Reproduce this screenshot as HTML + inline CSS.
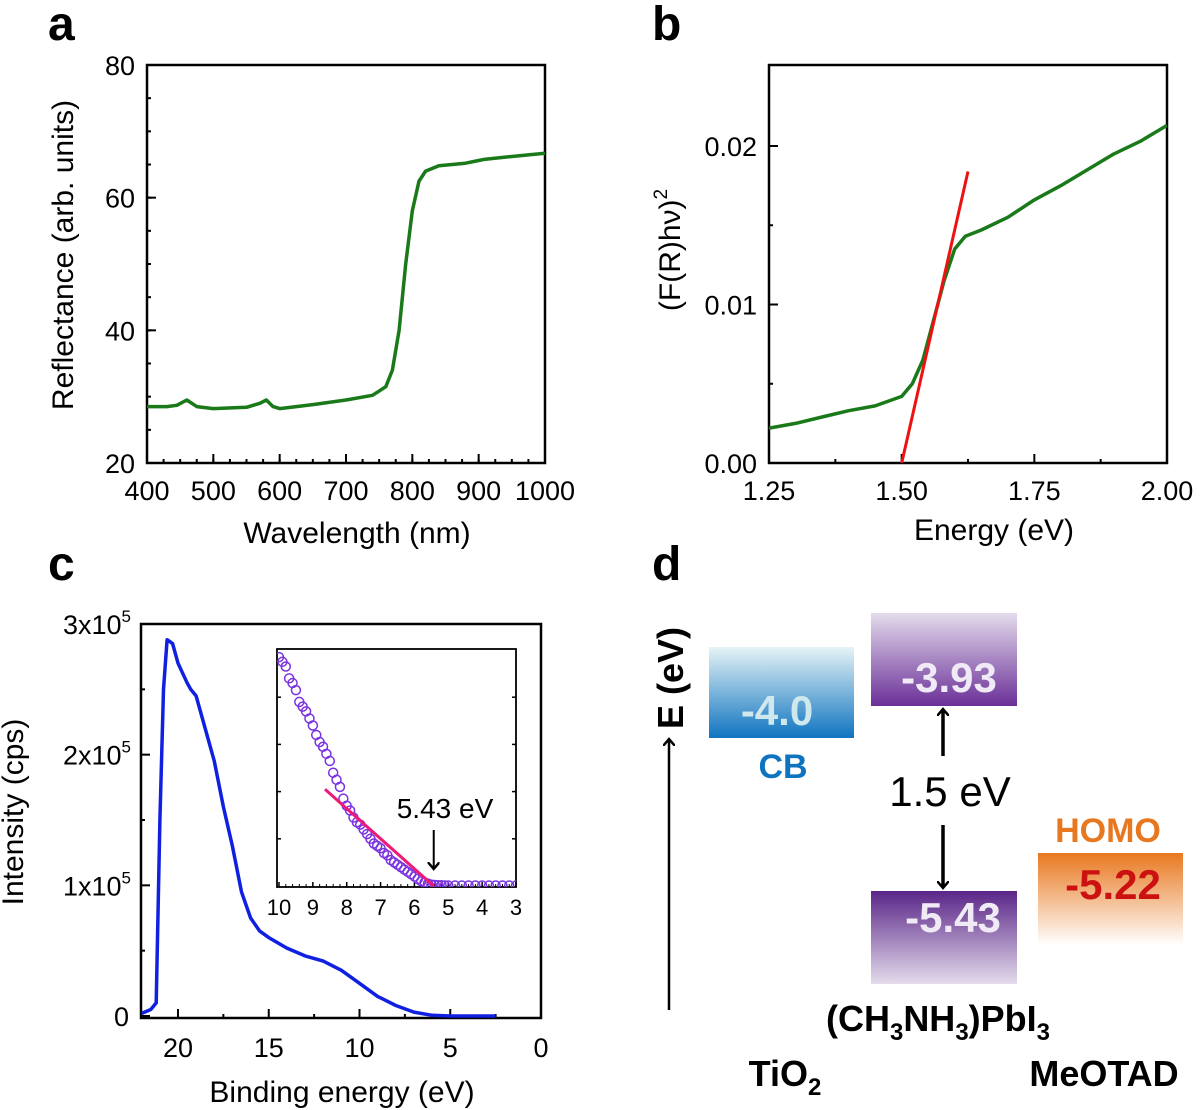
<!DOCTYPE html>
<html><head><meta charset="utf-8"><style>
body{margin:0;background:#fff}
svg{display:block;font-family:"Liberation Sans",Arial,sans-serif}
</style></head><body>
<svg id="fig" width="1200" height="1110" viewBox="0 0 1200 1110">
<defs>
<linearGradient id="gTi" x1="0" y1="0" x2="0" y2="1"><stop offset="0" stop-color="#e6f4f6"/><stop offset="1" stop-color="#0f74c0"/></linearGradient>
<linearGradient id="gPvT" x1="0" y1="0" x2="0" y2="1"><stop offset="0" stop-color="#e4dcec"/><stop offset="1" stop-color="#6a2f98"/></linearGradient>
<linearGradient id="gPvB" x1="0" y1="0" x2="0" y2="1"><stop offset="0" stop-color="#5a2588"/><stop offset="1" stop-color="#e4dcec"/></linearGradient>
<linearGradient id="gHo" x1="0" y1="0" x2="0" y2="1"><stop offset="0" stop-color="#e87820"/><stop offset="1" stop-color="#ffffff"/></linearGradient>
<marker id="ah" markerWidth="12" markerHeight="12" refX="6" refY="6" orient="auto" markerUnits="userSpaceOnUse"><path d="M0,0 L7,6 L0,12" fill="none" stroke="#000" stroke-width="2.5"/></marker>
</defs>
<g id="root"></g>
</svg>
<script>
// ---- Panel a data ----
const aWavelength=[400,430,445,460,475,500,550,570,580,590,600,650,700,740,760,770,780,790,800,810,820,840,880,900,910,950,1000];
const aReflect=[28.5,28.5,28.7,29.5,28.5,28.2,28.4,29,29.5,28.5,28.2,28.8,29.5,30.2,31.5,34,40,50,58,62.5,64,64.8,65.2,65.6,65.8,66.2,66.7];
const aXTicks=[400,500,600,700,800,900,1000];
const aYTicks=[20,40,60,80];
// ---- Panel b data ----
const bEnergy=[1.25,1.3,1.35,1.4,1.45,1.5,1.52,1.54,1.56,1.58,1.6,1.62,1.65,1.7,1.75,1.8,1.85,1.9,1.95,2.0];
const bValue=[0.0022,0.0025,0.0029,0.0033,0.0036,0.0042,0.005,0.0065,0.009,0.0115,0.0135,0.0143,0.0147,0.0155,0.0166,0.0175,0.0185,0.0195,0.0203,0.0213];
const bFitE=[1.50,1.625];
const bFitV=[0,0.0184];
const bXTicks=[1.25,1.5,1.75,2.0];
const bYTicks=[0,0.01,0.02];
const bYLabels=["0.00","0.01","0.02"];
// ---- Panel c data ----
const cEnergy=[22,21.5,21.2,21.0,20.8,20.6,20.3,20,19.5,19.3,19,18.5,18,17.5,17,16.5,16,15.5,15,14,13,12,11,10,9,8,7,6,5,2.5];
const cIntensity=[0.02,0.05,0.1,1.5,2.5,2.88,2.85,2.7,2.55,2.5,2.45,2.2,1.95,1.6,1.3,0.95,0.75,0.65,0.6,0.52,0.46,0.42,0.35,0.25,0.15,0.08,0.03,0.005,0,0];
const cXTicks=[20,15,10,5,0];
const cYTicks=[0,1,2,3];
const insetE=[10,9.9,9.8,9.7,9.6,9.5,9.4,9.3,9.2,9.1,9.0,8.9,8.8,8.7,8.6,8.5,8.4,8.3,8.2,8.1,8.0,7.9,7.8,7.7,7.6,7.5,7.4,7.3,7.2,7.1,7.0,6.9,6.8,6.7,6.6,6.5,6.4,6.3,6.2,6.1,6.0,5.9,5.8,5.7,5.6,5.5,5.4,5.3,5.2,5.1,5.0,4.8,4.6,4.4,4.2,4.0,3.8,3.6,3.4,3.2,3.0];
const insetV=[0.97,0.95,0.93,0.88,0.86,0.83,0.78,0.76,0.74,0.71,0.68,0.64,0.61,0.59,0.56,0.53,0.48,0.45,0.42,0.37,0.34,0.32,0.29,0.27,0.26,0.24,0.22,0.20,0.18,0.17,0.16,0.14,0.13,0.11,0.10,0.09,0.08,0.07,0.06,0.05,0.04,0.03,0.02,0.015,0.01,0.006,0.004,0.003,0.003,0.002,0.002,0.002,0.002,0.002,0.002,0.002,0.002,0.002,0.002,0.002,0.002];
const insetFitE=[8.64,5.43];
const insetFitV=[0.41,0];
const insetXTicks=[10,9,8,7,6,5,4,3];
// ---- Panel d data ----
const levelNames=["tio2-cb","perovskite-cb","perovskite-vb","meotad-homo"];
const levelValues=["-4.0","-3.93","-5.43","-5.22"];

const NS="http://www.w3.org/2000/svg";
const root=document.getElementById('root');
const TK=27, TT=30;
function el(tag,attrs,parent){const e=document.createElementNS(NS,tag);for(const k in attrs)e.setAttribute(k,attrs[k]);(parent||root).appendChild(e);return e;}
function txt(s,x,y,size,anchor,parent,extra){const t=el('text',Object.assign({x:x,y:y,'font-size':size,'text-anchor':anchor||'middle',fill:'#000'},extra||{}),parent);t.textContent=s;return t;}
function lin(d0,d1,r0,r1){return v=>r0+(v-d0)*(r1-r0)/(d1-d0);}
function frame(x0,y0,x1,y1,name){const r=el('rect',{x:x0,y:y0,width:x1-x0,height:y1-y0,fill:'none',stroke:'#000','stroke-width':2.5});}
function poly(xs,ys,fx,fy,color,w,name){let d='';for(let i=0;i<xs.length;i++)d+=(i?'L':'M')+fx(xs[i]).toFixed(1)+','+fy(ys[i]).toFixed(1);const p=el('path',{d:d,fill:'none',stroke:color,'stroke-width':w,'stroke-linejoin':'round'});return p;}
function label(s,x,y){const t=txt(s,x,y,48,'start',null,{'font-weight':'bold'});}
function xt(x,y,len){el('line',{x1:x,x2:x,y1:y,y2:y-len,stroke:'#000','stroke-width':2});}
function yt(x,y,len){el('line',{x1:x,x2:x+len,y1:y,y2:y,stroke:'#000','stroke-width':2});}

// ===== Panel a =====
label('a',48,40);
{const X0=147,X1=545,Y0=65,Y1=463;const fx=lin(400,1000,X0,X1),fy=lin(20,80,Y1,Y0);
frame(X0,Y0,X1,Y1,'panel-a-frame');
for(let v=425;v<1000;v+=25)xt(fx(v),Y1,4);
for(let v=25;v<80;v+=5)yt(X0,fy(v),4);
aXTicks.forEach(v=>{xt(fx(v),Y1,9);const t=txt(v,fx(v),500,TK);});
aYTicks.forEach(v=>{yt(X0,fy(v),9);const t=txt(v,X0-12,fy(v)+10,TK,'end');});
poly(aWavelength,aReflect,fx,fy,'#1a7a1a',3.5,'reflectance-curve');
let t=txt('Wavelength (nm)',357,543,TT);
t=txt('Reflectance (arb. units)',0,0,TT,'middle',null,{transform:'translate(73,255) rotate(-90)'});}

// ===== Panel b =====
label('b',652,40);
{const X0=769,X1=1167,Y0=65,Y1=463;const fx=lin(1.25,2.0,X0,X1),fy=lin(0,0.02,Y1,146);
frame(X0,Y0,X1,Y1,'panel-b-frame');
for(let v=1.375;v<2;v+=0.25)xt(fx(v),Y1,4);
[0.005,0.015].forEach(v=>yt(X0,fy(v),4));
bXTicks.forEach(v=>{xt(fx(v),Y1,9);const t=txt(v.toFixed(2),fx(v),500,TK);});
bYTicks.forEach((v,i)=>{yt(X0,fy(v),9);const t=txt(bYLabels[i],X0-12,fy(v)+10,TK,'end');});
const clip=el('clipPath',{id:'cb'});el('rect',{x:X0,y:Y0,width:X1-X0,height:Y1-Y0},clip);
const g=el('g',{'clip-path':'url(#cb)'});
let p=poly(bEnergy,bValue,fx,fy,'#1a7a1a',3.5,'absorption-curve');g.appendChild(p);
p=poly(bFitE,bFitV,fx,fy,'#ee1111',3,'tauc-fit-line');g.appendChild(p);
let t=txt('Energy (eV)',994,540,TT);
t=el('text',{'font-size':TT,'text-anchor':'middle',transform:'translate(680,250) rotate(-90)'});t.innerHTML='(F(R)hν)<tspan dy="-13" font-size="19">2</tspan>';}

// ===== Panel c =====
label('c',48,580);
{const X0=141,X1=541,Y0=624,Y1=1018;const fx=lin(0,20,541,178),fy=lin(0,3,1016,624);
frame(X0,Y0,X1,Y1,'panel-c-frame');
for(let v=2.5;v<22;v+=5)xt(fx(v),Y1,4);
[0.5,1.5,2.5].forEach(v=>yt(X0,fy(v),4));
cXTicks.forEach(v=>{xt(fx(v),Y1,9);const t=txt(v,fx(v),1057,TK);});
cYTicks.forEach(v=>{yt(X0,fy(v),9);let t;
if(v===0)t=txt('0',X0-12,fy(v)+10,TK,'end');else{t=el('text',{x:X0-10,y:fy(v)+10,'font-size':TK,'text-anchor':'end'});t.innerHTML=v+'x10<tspan dy="-12" font-size="17">5</tspan>';}
});
poly(cEnergy,cIntensity,fx,fy,'#1020e0',3.5,'ups-spectrum');
let t=txt('Binding energy (eV)',342,1102,TT);
t=txt('Intensity (cps)',0,0,TT,'middle',null,{transform:'translate(23,812) rotate(-90)'});
// inset
const IX0=277,IX1=516,IY0=649,IY1=887;const ix=lin(10,3,279,516),iy=lin(0,1,886,650);
const ib=el('rect',{x:IX0,y:IY0,width:IX1-IX0,height:IY1-IY0,fill:'#fff',stroke:'#000','stroke-width':1.8});
insetXTicks.forEach(v=>{el('line',{x1:ix(v),x2:ix(v),y1:IY1,y2:IY1-5,stroke:'#000','stroke-width':1.5});const t=txt(v,ix(v),915,22);});
for(let v=9.8;v>3;v-=0.2)el('line',{x1:ix(v),x2:ix(v),y1:IY1,y2:IY1-3,stroke:'#000','stroke-width':1});
[0.2,0.4,0.6,0.8].forEach(v=>{el('line',{x1:IX0,x2:IX0+4,y1:iy(v),y2:iy(v),stroke:'#000','stroke-width':1.5});el('line',{x1:IX1,x2:IX1-4,y1:iy(v),y2:iy(v),stroke:'#000','stroke-width':1.5});});
const ic=el('clipPath',{id:'ci'});el('rect',{x:IX0,y:IY0,width:IX1-IX0,height:IY1-IY0},ic);
const g=el('g',{'clip-path':'url(#ci)'});
insetE.forEach((e,i)=>{const c=el('circle',{cx:ix(e),cy:iy(insetV[i]),r:4.5,fill:'none',stroke:'#7a33e0','stroke-width':1.5},g);});
let p=poly(insetFitE,insetFitV,ix,iy,'#ee1a78',3,'inset-fit-line');g.appendChild(p);
t=txt('5.43 eV',445,818,28);
const a=el('line',{x1:ix(5.43),x2:ix(5.43),y1:830,y2:868,stroke:'#000','stroke-width':2,'marker-end':'url(#ah)'});}

// ===== Panel d =====
label('d',652,580);
{const boxes=[[709,647,145,91,'url(#gTi)',777,725,'#cfe8ee'],[871,613,146,93,'url(#gPvT)',949,692,'#f0eaf6'],[871,891,146,93,'url(#gPvB)',953,932,'#f0eaf6'],[1038,853,145,92,'url(#gHo)',1113,899,'#cc1111']];
boxes.forEach((b,i)=>{const r=el('rect',{x:b[0],y:b[1],width:b[2],height:b[3],fill:b[4]});
const t=txt(levelValues[i],b[5],b[6],42,'middle',null,{'font-weight':'bold',fill:b[7]});});
let t=txt('CB',783,778,34,'middle',null,{'font-weight':'bold',fill:'#0f74c0'});
t=txt('HOMO',1108,842,34,'middle',null,{'font-weight':'bold',fill:'#e87820'});
t=txt('1.5 eV',950,806,42);
let a=el('line',{x1:943,x2:943,y1:756,y2:710,stroke:'#000','stroke-width':3.5,'marker-end':'url(#ah)'});
a=el('line',{x1:943,x2:943,y1:825,y2:887,stroke:'#000','stroke-width':3.5,'marker-end':'url(#ah)'});
a=el('line',{x1:669,x2:669,y1:1010,y2:740,stroke:'#000','stroke-width':2.5,'marker-end':'url(#ah)'});
t=txt('E (eV)',0,0,36,'middle',null,{'font-weight':'bold',transform:'translate(683,678) rotate(-90)'});
t=el('text',{x:938,y:1031,'font-size':36,'text-anchor':'middle','font-weight':'bold'});t.innerHTML='(CH<tspan dy="9" font-size="24">3</tspan><tspan dy="-9">NH</tspan><tspan dy="9" font-size="24">3</tspan><tspan dy="-9">)PbI</tspan><tspan dy="9" font-size="24">3</tspan>';
t=el('text',{x:785,y:1086,'font-size':36,'text-anchor':'middle','font-weight':'bold'});t.innerHTML='TiO<tspan dy="9" font-size="24">2</tspan>';
t=txt('MeOTAD',1104,1086,36,'middle',null,{'font-weight':'bold'});}
</script>
</body></html>
